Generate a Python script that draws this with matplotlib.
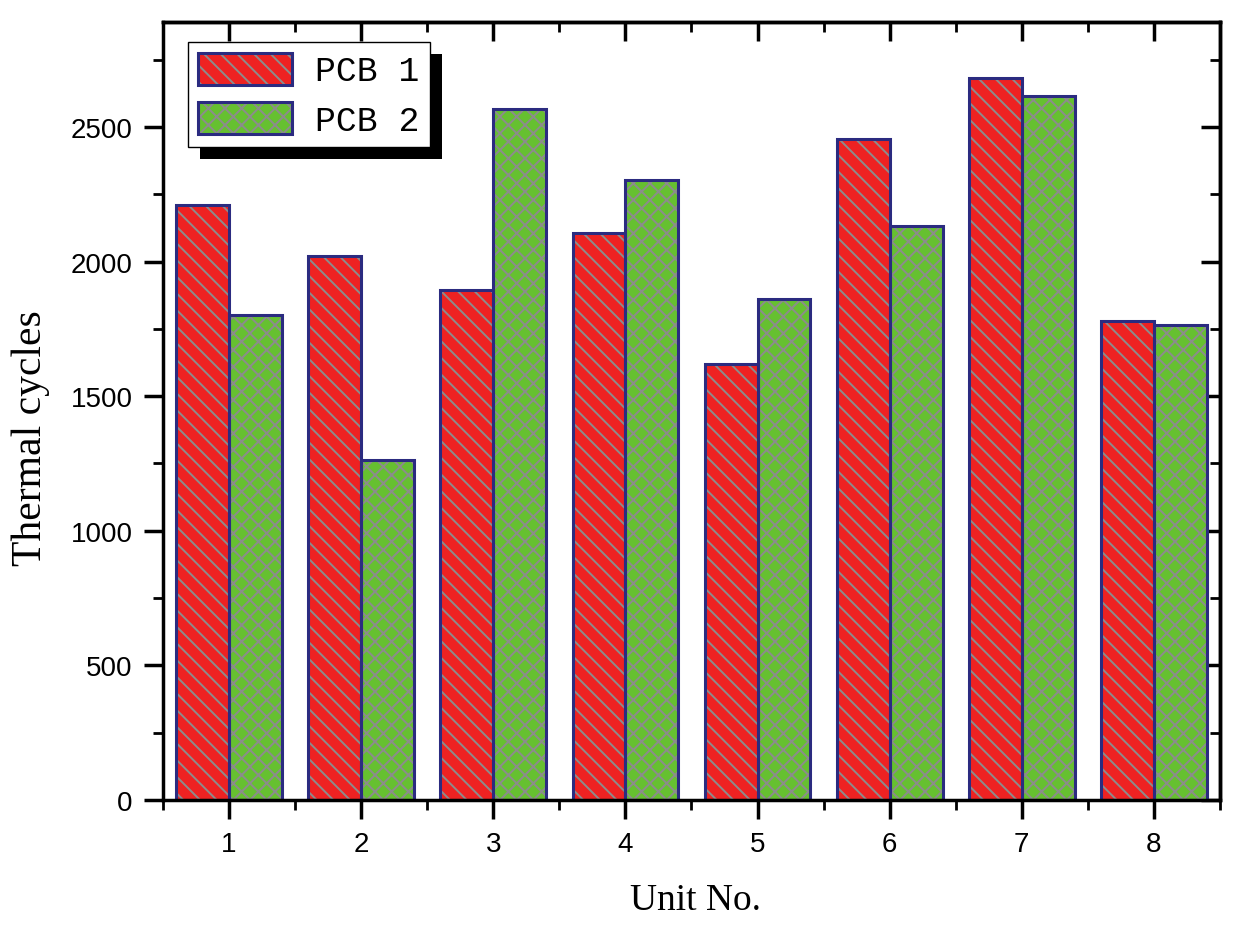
import matplotlib
matplotlib.use("Agg")
import matplotlib.pyplot as plt
import numpy as np
from matplotlib.patches import Patch, Rectangle
from matplotlib.legend_handler import HandlerTuple
from matplotlib.ticker import MultipleLocator
from matplotlib.transforms import IdentityTransform

units = [1, 2, 3, 4, 5, 6, 7, 8]
pcb1 = [2210, 2020, 1895, 2105, 1620, 2455, 2683, 1780]
pcb2 = [1803, 1263, 2567, 2303, 1862, 2131, 2616, 1766]
series_names = ["PCB 1", "PCB 2"]

red = "#ee2222"
green = "#66c030"
navy = "#2b2b80"
hatchc = "#8c8c8c"
plt.rcParams['hatch.linewidth'] = 1.4

fig = plt.figure(figsize=(12.52, 9.53), dpi=100)
ax = fig.add_axes([0.1302, 0.1595, 0.9744 - 0.1302, 0.9759 - 0.1595])

x = np.array(units, dtype=float)
w = 0.4
h1s = "\\\\"
h2s = "xx"
# fills
ax.bar(x - w/2, pcb1, w, color=red, linewidth=0, zorder=2)
ax.bar(x + w/2, pcb2, w, color=green, linewidth=0, zorder=2)
# hatches
ax.bar(x - w/2, pcb1, w, fill=False, hatch=h1s, edgecolor=hatchc, linewidth=0, zorder=3)
ax.bar(x + w/2, pcb2, w, fill=False, hatch=h2s, edgecolor=hatchc, linewidth=0, zorder=3)
# borders
ax.bar(x - w/2, pcb1, w, fill=False, edgecolor=navy, linewidth=2.2, zorder=4)
ax.bar(x + w/2, pcb2, w, fill=False, edgecolor=navy, linewidth=2.2, zorder=4)

ax.set_xlim(0.5, 8.5)
ax.set_ylim(0, 2890)
ax.set_xticks(units)
ax.xaxis.set_minor_locator(MultipleLocator(0.5))
ax.yaxis.set_major_locator(MultipleLocator(500))
ax.yaxis.set_minor_locator(MultipleLocator(250))

for s in ax.spines.values():
    s.set_linewidth(2.5)
    s.set_zorder(5)

ax.tick_params(axis='both', which='major', direction='out', length=14, width=2.5,
               labelsize=20, pad=8)
ax.tick_params(axis='both', which='minor', direction='out', length=7, width=2)
# top and right inward ticks
axt = ax.secondary_xaxis('top')
axt.set_xticks(units)
axt.xaxis.set_minor_locator(MultipleLocator(0.5))
axt.tick_params(which='major', direction='in', length=14, width=2.5, labeltop=False)
axt.tick_params(which='minor', direction='in', length=7, width=2)
axt.set_xticklabels([])
axt.spines['top'].set_linewidth(2.5)
axr = ax.secondary_yaxis('right')
axr.yaxis.set_major_locator(MultipleLocator(500))
axr.yaxis.set_minor_locator(MultipleLocator(250))
axr.tick_params(which='major', direction='in', length=14, width=2.5, labelright=False)
axr.tick_params(which='minor', direction='in', length=7, width=2)
axr.spines['right'].set_linewidth(2.5)

for lab in ax.get_xticklabels() + ax.get_yticklabels():
    lab.set_fontfamily("Liberation Sans")

ax.set_xlabel("Unit No.", fontfamily="Liberation Serif", fontsize=27)
ax.xaxis.set_label_coords(0.504, -0.106)
ax.set_ylabel("Thermal cycles", fontfamily="Liberation Serif", fontsize=30)
ax.yaxis.set_label_coords(-0.107, 0.467)

h1 = (Patch(facecolor=red, linewidth=0), Patch(fill=False, hatch=h1s, edgecolor=hatchc, linewidth=0),
      Patch(fill=False, edgecolor=navy, linewidth=2.2))
h2 = (Patch(facecolor=green, linewidth=0), Patch(fill=False, hatch=h2s, edgecolor=hatchc, linewidth=0),
      Patch(fill=False, edgecolor=navy, linewidth=2.2))
leg = ax.legend([h1, h2], series_names, handler_map={tuple: HandlerTuple(ndivide=1, pad=0)},
                loc='upper left', bbox_to_anchor=(0.0237, 0.974), fancybox=False, shadow=False,
                framealpha=1, edgecolor='black', prop={'family': 'Liberation Mono', 'size': 25},
                handlelength=2.7, handleheight=1.04, borderpad=0.3, labelspacing=0.42, handletextpad=0.65,
                borderaxespad=0)
leg.get_frame().set_linewidth(1)
leg.set_zorder(10)

fig.canvas.draw()
bb = leg.get_frame().get_window_extent()
shadow = Rectangle((bb.x0 + 12, bb.y0 - 12), bb.width, bb.height, transform=IdentityTransform(),
                   facecolor='black', edgecolor='none', zorder=9, clip_on=False)
ax.add_artist(shadow)

fig.savefig("out.png", dpi=100)
